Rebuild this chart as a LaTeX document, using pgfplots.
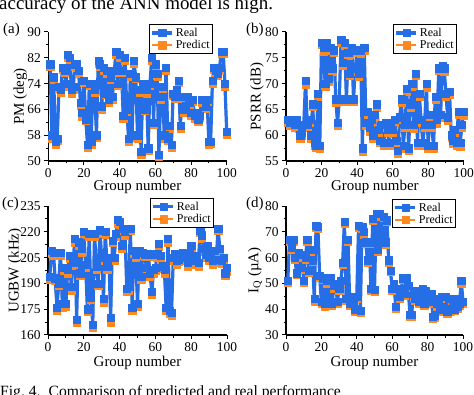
\documentclass[border=0pt]{standalone}
\usepackage{fontspec}
\setmainfont{Liberation Serif}
\usepackage{pgfplots}
\usepackage{pgfplotstable}
\pgfplotsset{compat=1.18}
\definecolor{realblue}{RGB}{38,110,230}
\definecolor{predorange}{RGB}{255,137,30}

\pgfplotstableread{
x r p
1 80 79.2
2 58 57.1
3 76 75.3
4 56 55.0
5 57 56.2
6 73 72.4
7 72 71.1
8 79 78.3
9 78 77.4
10 74 73.1
11 83 82.2
12 82 81.5
13 72 71.0
14 73 72.3
15 80 79.4
16 80 79.1
17 78 77.0
18 68 67.3
19 65 63.9
20 75 74.2
21 63 62.4
22 55 54.1
23 74 73.3
24 56 55.2
25 74 73.5
26 72 71.1
27 58 57.3
28 81 80.2
29 80 79.4
30 67 66.1
31 79 78.2
32 71 70.5
33 78 77.1
34 69 68.2
35 76 75.4
36 70 69.0
37 78 77.3
38 84 83.1
39 74 73.4
40 83 82.0
41 78 77.5
42 64 63.1
43 82 81.3
44 66 65.4
45 57 56.0
46 77 76.3
47 58 57.2
48 81 80.1
49 76 75.5
50 58 57.0
51 72 71.3
52 53 52.1
53 74 73.2
54 66 65.5
55 72 71.0
56 54 53.2
57 74 73.4
58 82 81.1
59 62 61.2
60 80 79.5
61 77 76.1
62 52 51.3
63 70 69.2
64 73 72.5
65 58 57.1
66 79 78.2
67 57 56.4
68 61 60.0
69 55 54.3
70 71 70.2
71 70 69.5
72 72 71.1
73 75 74.3
74 61 60.2
75 70 69.4
76 66 65.1
77 67 66.3
78 70 69.2
79 68 67.5
80 65 64.1
81 69 68.3
82 64 63.2
83 65 64.5
84 63 62.1
85 64 63.4
86 69 68.1
87 69 68.4
88 67 66.2
89 69 68.3
90 56 55.1
91 56 55.3
92 75 74.1
93 79 78.4
94 78 77.2
95 77 76.5
96 79 78.1
97 84 83.2
98 84 83.4
99 74 73.1
100 59 58.2
}\dataA

\pgfplotstableread{
x r p
1 63 62.4
2 62.5 61.8
3 63 62.5
4 62.5 61.9
5 62 61.4
6 63 62.6
7 62 61.3
8 60 59.4
9 60.5 60.0
10 62 61.5
11 70.5 69.9
12 62 61.4
13 63 62.5
14 60 59.3
15 66 65.5
16 58.5 57.9
17 58 57.6
18 68 67.4
19 58 57.5
20 78 77.6
21 77 76.3
22 70 69.4
23 78 77.5
24 71 70.4
25 77 76.5
26 73 72.3
27 76.5 76.0
28 67 66.4
29 62.5 61.9
30 67 66.5
31 78.5 77.9
32 74 73.5
33 78 77.3
34 67 66.5
35 76 75.4
36 72 71.5
37 77 76.4
38 67 66.6
39 73 72.4
40 76.5 76.0
41 72 71.3
42 76.5 75.9
43 57.5 56.8
44 77 76.5
45 62.5 61.9
46 64.5 64.0
47 61.5 60.8
48 63 62.5
49 60 59.4
50 64 63.5
51 66 65.3
52 61 60.4
53 59 58.5
54 62 61.4
55 58.5 58.0
56 62.5 61.8
57 61 60.5
58 58.5 57.9
59 62.5 62.0
60 61 60.3
61 63 62.5
62 59 58.4
63 57 56.4
64 63.5 63.0
65 67 66.3
66 58 57.5
67 62 61.5
68 69 68.4
69 57.5 57.0
70 66 65.4
71 70 69.5
72 62 61.3
73 72 71.5
74 58.5 58.0
75 68 67.4
76 63 62.5
77 58.5 57.9
78 62 61.5
79 70 69.3
80 58 57.5
81 64 63.4
82 62 61.5
83 58 57.4
84 67.5 67.0
85 63 62.3
86 73 72.5
87 64 63.4
88 73.5 73.0
89 73 72.3
90 68 67.5
91 63.5 62.9
92 68.5 67.9
93 60 59.5
94 59 58.3
95 61 60.5
96 58.5 57.9
97 64.5 64.0
98 58.5 57.8
99 62 61.5
100 64.5 63.9
}\dataB

\pgfplotstableread{
x r p
1 194 192
2 209 207.5
3 208 206
4 193 191.5
5 176 174
6 190 188.5
7 208 206
8 178 176
9 199 197.5
10 178 176.5
11 198 196
12 206 204.5
13 188 186
14 202 200.5
15 216 214
16 169 167.5
17 214 212
18 196 194.5
19 210 208
20 220 218.5
21 201 199
22 175 173.5
23 219 217
24 182 180.5
25 166 164.5
26 219 217.5
27 200 198
28 190 188.5
29 221 219
30 205 203.5
31 181 179
32 220 218.5
33 200 198
34 205 203.5
35 170 167.5
36 215 213.5
37 205 203
38 219 217.5
39 227 225
40 226 224.5
41 212 210
42 222 220.5
43 220 218
44 187 185.5
45 188 186
46 222 220.5
47 176 174
48 209 207.5
49 207 205
50 178 176.5
51 209 207
52 194 192.5
53 208 206
54 207 205.5
55 199 197
56 207 205.5
57 196 194
58 185 183.5
59 198 196
60 199 197.5
61 207 205
62 213 211.5
63 206 204
64 200 198.5
65 198 196
66 176 174.5
67 216 214
68 174 172.5
69 173 171.5
70 205 203
71 207 205.5
72 203 201
73 204 202.5
74 207 205
75 208 206.5
76 205 203
77 207 205.5
78 202 200
79 207 205.5
80 212 210
81 205 203.5
82 203 201
83 206 204.5
84 202 200
85 221 219.5
86 218 216
87 210 208.5
88 207 205
89 212 210.5
90 205 203
91 208 206.5
92 203 201
93 209 207.5
94 204 202
95 222 220.5
96 210 208
97 203 201.5
98 205 203
99 196 194.5
100 199 197
}\dataC

\pgfplotstableread{
x r p
1 51 50.2
2 67 66.3
3 64 63.1
4 67 66.4
5 60 59.1
6 54 53.3
7 62 61.2
8 56 55.4
9 61 60.1
10 51 50.3
11 60 59.4
12 67 66.1
13 55 54.3
14 63 62.1
15 59 58.4
16 44 43.1
17 72.5 71.8
18 72 71.1
19 53 52.3
20 43 42.1
21 52 51.4
22 42 41.2
23 51 50.1
24 45 44.4
25 52 51.2
26 42 41.3
27 49 48.1
28 50 49.4
29 43 42.2
30 48 47.3
31 51 50.2
32 58 57.4
33 74 73.1
34 44 43.3
35 67 66.2
36 42 41.4
37 45 44.1
38 43 42.3
39 40 39.1
40 45 44.3
41 72.5 71.6
42 39.5 38.8
43 72 71.3
44 70 69.1
45 66 65.4
46 59 58.2
47 66 65.3
48 48 47.1
49 75 74.3
50 47.5 46.7
51 77 76.2
52 63 62.4
53 77 76.1
54 66 65.3
55 76 75.4
56 66 65.1
57 74.5 73.8
58 59 58.1
59 55 54.4
60 48 47.2
61 50 49.3
62 41 40.1
63 48 47.4
64 45 44.2
65 47 46.1
66 52 51.4
67 46 45.2
68 52 51.1
69 49 48.3
70 38 37.1
71 38 37.3
72 46 45.2
73 44 43.4
74 47 46.1
75 43 42.3
76 45 44.4
77 48 47.1
78 42 41.3
79 47 46.2
80 44 43.4
81 43 42.1
82 46 45.3
83 37 36.2
84 37.5 36.8
85 42 41.1
86 44 43.3
87 40 39.2
88 45 44.4
89 41 40.1
90 45 44.3
91 39 38.2
92 44 43.4
93 40 39.1
94 43.5 42.7
95 40 39.3
96 44 43.1
97 41 40.2
98 42 41.4
99 51 50.1
100 43 42.2
}\dataD

\pgfplotsset{
  panel/.style={
    scale only axis,
    height=129bp,
    axis lines=left,
    axis line style={-, line width=1.2bp},
    tick align=outside, tick pos=left,
    xmin=0, xmax=100, xtick={0,20,...,100},
    minor x tick num=1, minor y tick num=1,
    major tick length=4bp, minor tick length=2.5bp,
    every tick/.style={black, line width=1bp},
    tick label style={font=\fontsize{13.5}{13.5}\selectfont},
    /pgf/number format/assume math mode=true,
    xlabel={Group number},
    every axis x label/.style={at={(axis description cs:0.5,0)}, anchor=base, yshift=-30bp, font=\fontsize{15}{15}\selectfont},
    clip=false,
    reverse legend,
    legend style={draw=black, line width=1bp, anchor=north west,
      font=\fontsize{12}{12}\selectfont, inner sep=1.2bp, row sep=-1.5bp,
      legend cell align=left},
    legend image code/.code={\draw[mark repeat=2, mark phase=2, #1] plot coordinates {(0bp,0bp) (10bp,0bp) (20bp,0bp)};},
  },
  realsty/.style={realblue, line width=3.2bp, line join=round, mark=square*, mark size=3.6bp, mark options={solid, fill=realblue, draw=realblue, line width=0.3bp}},
  predsty/.style={predorange, line width=2.2bp, line join=round, mark=square*, mark size=3.6bp, mark options={solid, fill=predorange, draw=predorange, line width=0.3bp}},
}

\begin{document}
\begin{tikzpicture}
\useasboundingbox (0,0) rectangle (474bp,395bp);
\clip (0,0) rectangle (474bp,395bp);
\fill[white] (0,0) rectangle (474bp,395bp);

\node[anchor=base west, inner sep=0, font=\fontsize{19}{19}\selectfont] at (-1bp,385.7bp) {accuracy of the ANN model is high.};
\node[anchor=base west, inner sep=0, font=\fontsize{15.7}{16}\selectfont] at (0bp,-1bp) {Fig.~4.\hspace{8bp}Comparison of predicted and real performance};

% (a)
\begin{axis}[panel, width=178.4bp, at={(48.3bp,234bp)}, anchor=south west,
  ymin=50, ymax=90, ytick={50,58,...,90},
  ylabel={PM (deg)},
  every axis y label/.style={at={(axis description cs:-0.157,0.5)}, rotate=90, anchor=center, font=\fontsize{15}{15}\selectfont},
  legend style={at={(0.564,1.059)}}]
\addplot[predsty] table[x=x, y=p] {\dataA};
\addlegendentry{Predict}
\addplot[realsty] table[x=x, y=r] {\dataA};
\addlegendentry{Real}
\end{axis}

% (b)
\begin{axis}[panel, width=177.7bp, at={(286bp,234bp)}, anchor=south west,
  ymin=55, ymax=80, ytick={55,60,...,80},
  ylabel={PSRR (dB)},
  every axis y label/.style={at={(axis description cs:-0.163,0.5)}, rotate=90, anchor=center, font=\fontsize{15}{15}\selectfont},
  legend style={at={(0.602,1.059)}}]
\addplot[predsty] table[x=x, y=p] {\dataB};
\addlegendentry{Predict}
\addplot[realsty] table[x=x, y=r] {\dataB};
\addlegendentry{Real}
\end{axis}

% (c)
\begin{axis}[panel, width=179bp, at={(48bp,60bp)}, anchor=south west,
  ymin=160, ymax=235, ytick={160,175,...,235},
  ylabel={UGBW (kHz)},
  every axis y label/.style={at={(axis description cs:-0.184,0.5)}, rotate=90, anchor=center, font=\fontsize{15}{15}\selectfont},
  every axis x label/.style={at={(axis description cs:0.5,0)}, anchor=base, yshift=-32bp, font=\fontsize{15}{15}\selectfont},
  legend style={at={(0.57,1.06)}}]
\addplot[predsty] table[x=x, y=p] {\dataC};
\addlegendentry{Predict}
\addplot[realsty] table[x=x, y=r] {\dataC};
\addlegendentry{Real}
\end{axis}

% (d)
\begin{axis}[panel, width=177bp, at={(286bp,60bp)}, anchor=south west,
  ymin=30, ymax=80, ytick={30,40,...,80},
  ylabel={I\textsubscript{Q} (µA)},
  every axis y label/.style={at={(axis description cs:-0.175,0.5)}, rotate=90, anchor=center, font=\fontsize{15}{15}\selectfont},
  every axis x label/.style={at={(axis description cs:0.5,0)}, anchor=base, yshift=-32bp, font=\fontsize{15}{15}\selectfont},
  legend style={at={(0.599,1.054)}}]
\addplot[predsty] table[x=x, y=p] {\dataD};
\addlegendentry{Predict}
\addplot[realsty] table[x=x, y=r] {\dataD};
\addlegendentry{Real}
\end{axis}

\node[anchor=base west, inner sep=0, font=\fontsize{15}{15}\selectfont] at (3bp,361bp) {(a)};
\node[anchor=base west, inner sep=0, font=\fontsize{15}{15}\selectfont] at (246bp,361bp) {(b)};
\node[anchor=base west, inner sep=0, font=\fontsize{15}{15}\selectfont] at (2bp,187bp) {(c)};
\node[anchor=base west, inner sep=0, font=\fontsize{15}{15}\selectfont] at (246bp,187bp) {(d)};
\end{tikzpicture}
\end{document}
